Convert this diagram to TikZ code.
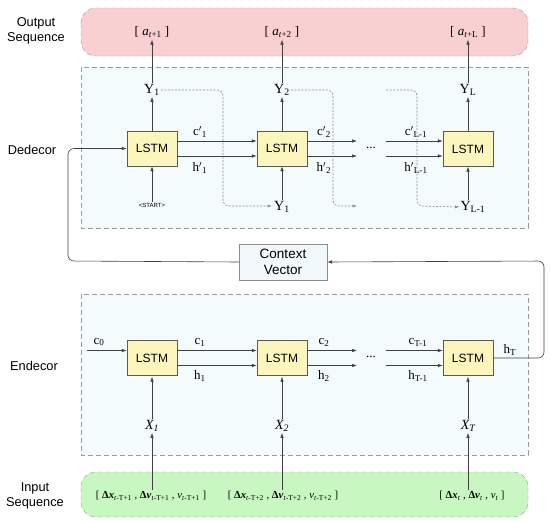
\documentclass[tikz,border=0pt]{standalone}
\usepackage{fontspec}
\setmainfont{Liberation Serif}
\setsansfont{Liberation Sans}
\usetikzlibrary{arrows.meta}
\definecolor{outpink}{HTML}{F9D0D1}
\definecolor{ingreen}{HTML}{C8F7C2}
\definecolor{lstmyel}{HTML}{FDF6BC}
\definecolor{regbg}{HTML}{F3FBFD}
\definecolor{ctxbg}{HTML}{F2F9FC}
\definecolor{dgray}{HTML}{9A9A9A}
\newcommand{\sub}[1]{\textsubscript{#1}}
\begin{document}
\begin{tikzpicture}[x=1pt,y=-1pt,
  lstm/.style={draw=black!65,fill=lstmyel,minimum width=50pt,minimum height=35pt,inner sep=0pt,font=\sffamily\fontsize{12}{14}\selectfont},
  region/.style={draw=dgray,dashed,dash pattern=on 5pt off 3pt,fill=regbg},
  seqbox/.style={draw=dgray,dashed,dash pattern=on 5pt off 3pt,rounded corners=15pt},
  side/.style={font=\sffamily\fontsize{12.8}{15}\selectfont,align=center},
  ylab/.style={font=\fontsize{14}{16}\selectfont,inner sep=1pt},
  slab/.style={font=\fontsize{13}{15}\selectfont,inner sep=0pt},
  seqtxt/.style={font=\fontsize{13}{15}\selectfont,inner sep=1pt},
  intxt/.style={font=\fontsize{10.7}{12}\selectfont,inner sep=1pt},
  arr/.style={-{Latex[length=5pt,width=3.5pt]},draw=black!75,line width=0.6pt},
  darr/.style={-{Latex[length=4.5pt,width=3pt]},draw=black!45,dashed,dash pattern=on 2pt off 1.5pt,line width=0.6pt,rounded corners=6pt}
]
\useasboundingbox (0,0) rectangle (550,523);

% side labels
\node[side] (lout) at (36,31) {Output\\Sequence};
\node[side] (ldec) at (32,150) {Dedecor};
\node[side] (lenc) at (34,366) {Endecor};
\node[side] (lin) at (35,496) {Input\\Sequence};

% regions
\path[seqbox,fill=outpink] (81,8) rectangle (528,56);
\path[region] (81,67) rectangle (528,228);
\path[region] (81,294) rectangle (528,455);
\path[seqbox,fill=ingreen] (81,472) rectangle (528,517);

% output texts
\node[seqtxt] (o1) at (152,32) {[ \textit{a}\sub{\textit{t}+1} ]};
\node[seqtxt] (o2) at (282,32) {[ \textit{a}\sub{\textit{t}+2} ]};
\node[seqtxt] (o3) at (468,32) {[ \textit{a}\sub{\textit{t}+L} ]};

% decoder
\node[lstm] (d1) at (152,148.5) {LSTM};
\node[lstm] (d2) at (282,148.5) {LSTM};
\node[lstm] (d3) at (468,149) {LSTM};
\node[ylab] (y1) at (152,90) {Y\sub{1}};
\node[ylab] (y2) at (282,90) {Y\sub{2}};
\node[ylab] (y3) at (468,90) {Y\sub{L}};
\node[ylab] (yb2) at (282,207) {Y\sub{1}};
\node[ylab] (yb3) at (473,207) {Y\sub{L-1}};
\node[font=\sffamily\fontsize{6}{7}\selectfont,inner sep=1pt] (start) at (152,205) {<START>};

\foreach \i in {1,2,3}{
  \draw[arr] (d\i.north) -- (y\i.south);
  \draw[arr] (y\i.north) -- ([yshift=-1pt]o\i.south);
}
\draw[arr] (start.north) -- (d1.south);
\draw[arr] (yb2.north) -- (d2.south);
\draw[arr] (yb3.north -| d3) -- (d3.south);

\coordinate (dc2e) at (357,141);
\coordinate (dh2e) at (357,156);
\coordinate (dc3s) at (386,141);
\coordinate (dh3s) at (386,156);
\draw[arr] ([yshift=7.5pt]d1.east) -- ([yshift=7.5pt]d2.west);
\draw[arr] ([yshift=-7.5pt]d1.east) -- ([yshift=-7.5pt]d2.west);
\draw[arr] ([yshift=7.5pt]d2.east) -- (dc2e);
\draw[arr] ([yshift=-7.5pt]d2.east) -- (dh2e);
\draw[arr] (dc3s) -- (d3.west |- dc3s);
\draw[arr] (dh3s) -- (d3.west |- dh3s);
\node[slab] (dots1) at (371,148) {...};
\node[slab] (lc1) at (200,132) {c$'$\sub{1}};
\node[slab] (lh1) at (200,168) {h$'$\sub{1}};
\node[slab] (lc2) at (324,132) {c$'$\sub{2}};
\node[slab] (lh2) at (324,168) {h$'$\sub{2}};
\node[slab] (lc3) at (416,132) {c$'$\sub{L-1}};
\node[slab] (lh3) at (416,168) {h$'$\sub{L-1}};

% dashed feedback in decoder
\coordinate (dd1e) at (272,206);
\coordinate (dd2e) at (357,206);
\coordinate (dd3s) at (386,90);
\draw[darr] (y1.east) -- (223,90) -- (223,206) -- (dd1e);
\draw[darr] (y2.east) -- (333,90) -- (333,206) -- (dd2e);
\draw[darr] (dd3s) -- (417,90) -- (417,206) -- (yb3.west);

% context vector
\node[draw=black!45,fill=ctxbg,minimum width=88pt,minimum height=36pt,inner sep=0pt,align=center,font=\sffamily\fontsize{13.5}{15.5}\selectfont] (ctx) at (283,262) {Context\\Vector};
\draw[arr,rounded corners=6pt] (ctx.west) -- (68,261) -- (68,148.5) -- (d1.west);

% encoder
\node[lstm] (e1) at (152,358) {LSTM};
\node[lstm] (e2) at (282,358) {LSTM};
\node[lstm] (e3) at (468,358) {LSTM};
\node[ylab,font=\itshape\fontsize{14}{16}\selectfont] (x1) at (152,426) {X\sub{\textit{1}}};
\node[ylab,font=\itshape\fontsize{14}{16}\selectfont] (x2) at (282,426) {X\sub{\textit{2}}};
\node[ylab,font=\itshape\fontsize{14}{16}\selectfont] (x3) at (468,426) {X\sub{\textit{T}}};
\foreach \i in {1,2,3}{
  \draw[arr] (x\i.north) -- ([yshift=-1pt]e\i.south);
}
\coordinate (c0s) at (87,350.5);
\draw[arr] (c0s) -- (e1.west |- c0s);
\coordinate (ec2e) at (357,350.5);
\coordinate (eh2e) at (357,365.5);
\coordinate (ec3s) at (386,350.5);
\coordinate (eh3s) at (386,365.5);
\draw[arr] ([yshift=7.5pt]e1.east) -- ([yshift=7.5pt]e2.west);
\draw[arr] ([yshift=-7.5pt]e1.east) -- ([yshift=-7.5pt]e2.west);
\draw[arr] ([yshift=7.5pt]e2.east) -- (ec2e);
\draw[arr] ([yshift=-7.5pt]e2.east) -- (eh2e);
\draw[arr] (ec3s) -- (e3.west |- ec3s);
\draw[arr] (eh3s) -- (e3.west |- eh3s);
\node[slab] (dots2) at (371,357) {...};
\node[slab] (lc0) at (99,342) {c\sub{0}};
\node[slab] (le1) at (200,342) {c\sub{1}};
\node[slab] (lf1) at (200,376) {h\sub{1}};
\node[slab] (le2) at (324,342) {c\sub{2}};
\node[slab] (lf2) at (324,376) {h\sub{2}};
\node[slab] (le3) at (418,342) {c\sub{T-1}};
\node[slab] (lf3) at (418,376) {h\sub{T-1}};
\node[slab] (lhT) at (510,350) {h\sub{T}};
\draw[arr,rounded corners=6pt] (e3.east) -- (544,358) -- (544,261) -- (ctx.east);

% inputs
\node[intxt] (in1) at (151,496) {[ \textbf{Δ\textit{x}}\sub{\textit{t}-T+1} , \textbf{Δ\textit{v}}\sub{\textit{t}-T+1} , \textit{v}\sub{\textit{t}-T+1} ]};
\node[intxt] (in2) at (283,496) {[ \textbf{Δ\textit{x}}\sub{\textit{t}-T+2} , \textbf{Δ\textit{v}}\sub{\textit{t}-T+2} , \textit{v}\sub{\textit{t}-T+2} ]};
\node[intxt] (in3) at (472,496) {[ \textbf{Δ\textit{x}}\sub{\textit{t}} , \textbf{Δ\textit{v}}\sub{\textit{t}} , \textit{v}\sub{\textit{t}} ]};
\draw[arr] (in1.north -| x1) -- (x1.south);
\draw[arr] (in2.north -| x2) -- (x2.south);
\draw[arr] (in3.north -| x3) -- (x3.south);
\end{tikzpicture}
\end{document}
